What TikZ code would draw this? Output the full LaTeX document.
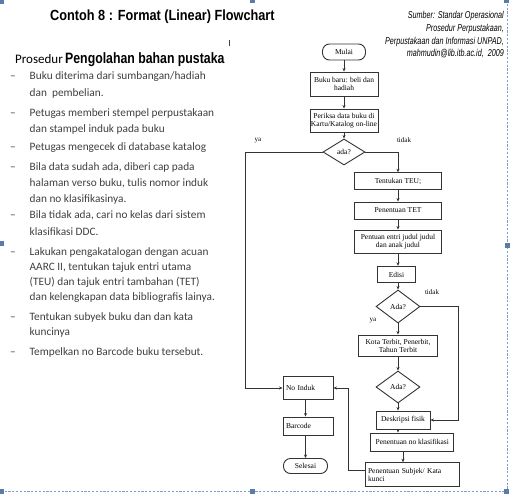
\documentclass[tikz,border=0pt]{standalone}
\usepackage{graphicx}
\usepackage{fontspec}
\setmainfont{Liberation Serif}
\newfontfamily\arialf{Liberation Sans}
\newfontfamily\calf{Carlito}
\usetikzlibrary{arrows.meta,shapes.geometric}
\definecolor{handle}{HTML}{5B7BAA}
\definecolor{selline}{HTML}{7F9CC8}
\definecolor{bodytext}{HTML}{404040}
\tikzset{
  fbox/.style={draw=black!80, line width=0.9pt, fill=white, inner sep=1pt, align=center,
    font=\fontsize{7.5}{8}\selectfont},
  lbox/.style={fbox, align=left, text width=#1},
  term/.style={fbox, rounded corners=7pt},
  dec/.style={draw=black!80, line width=0.9pt, fill=white, diamond, inner sep=0pt,
    font=\fontsize{7.5}{8}\selectfont},
  arr/.style={draw=black!80, line width=0.8pt, -{Stealth[length=3.5pt,width=3pt]}},
  lab/.style={inner sep=0pt, font=\fontsize{7}{7.5}\selectfont},
  bl/.style={anchor=base west, inner sep=0pt, text=bodytext, font=\calf\fontsize{11.3}{13}\selectfont},
  src/.style={anchor=base east, inner sep=0pt},
  hnd/.style={fill=handle, draw=none}
}
\begin{document}
\begin{tikzpicture}[x=1pt,y=-1pt]
\useasboundingbox (0,0) rectangle (513,494);
\fill[white] (0,0) rectangle (513,494);

% selection frame
\draw[selline, line width=0.8pt, dash pattern=on 2.2pt off 1.6pt] (507,0) -- (507,491.5) -- (0,491.5);
\fill[hnd] (0,0) rectangle (4,4);
\fill[hnd] (250,0) rectangle (255,3.5);
\fill[hnd] (504,0) rectangle (509,3.5);
\fill[hnd] (0,240.5) rectangle (3.5,245.5);
\fill[hnd] (504.5,243) rectangle (509.5,248);
\fill[hnd] (0,489) rectangle (3.5,494);
\fill[hnd] (250,488.5) rectangle (255,494);
\fill[hnd] (503.5,488.5) rectangle (508.5,494);

% title
\node[anchor=base west, inner sep=0pt] (title) at (50,20.7)
  {\scalebox{0.865}[1]{\arialf\bfseries\fontsize{14.7}{16}\selectfont Contoh 8 : Format (Linear) Flowchart}};
\fill[black!75] (228.8,40) rectangle (230.2,46.5);

% source
\node[src] (s1) at (504,18.5) {\scalebox{0.72}[1]{\arialf\itshape\fontsize{10}{11}\selectfont Sumber: Standar Operasional}};
\node[src] (s2) at (504,31.5) {\scalebox{0.72}[1]{\arialf\itshape\fontsize{10}{11}\selectfont Prosedur Perpustakaan,}};
\node[src] (s3) at (504,44.5) {\scalebox{0.72}[1]{\arialf\itshape\fontsize{10}{11}\selectfont Perpustakaan dan Informasi UNPAD,}};
\node[src] (s4) at (504,57) {\scalebox{0.72}[1]{\arialf\itshape\fontsize{10}{11}\selectfont mahmudin@lib.itb.ac.id,\ \ 2009}};

% heading
\node[anchor=base west, inner sep=0pt] (h1) at (15,63.3) {\calf\fontsize{13}{14}\selectfont Prosedur};
\node[anchor=base west, inner sep=0pt] (h2) at (65,63.3)
  {\scalebox{0.82}[1]{\arialf\bfseries\fontsize{15}{16}\selectfont Pengolahan bahan pustaka}};

% bullets: dashes
\node[bl, anchor=base west] (d1m) at (10,80) {–};
\node[bl, anchor=base west] (d2m) at (10,116.5) {–};
\node[bl, anchor=base west] (d3m) at (10,150.5) {–};
\node[bl, anchor=base west] (d4m) at (10,170.5) {–};
\node[bl, anchor=base west] (d5m) at (10,218.5) {–};
\node[bl, anchor=base west] (d6m) at (10,255) {–};
\node[bl, anchor=base west] (d7m) at (10,320) {–};
\node[bl, anchor=base west] (d8m) at (10,355) {–};
% bullets: lines
\node[bl] (l1) at (29.5,80) {Buku diterima dari sumbangan/hadiah};
\node[bl] (l2) at (29.5,96.5) {dan\ \ pembelian.};
\node[bl] (l3) at (29.5,116.5) {Petugas memberi stempel perpustakaan};
\node[bl] (l4) at (29.5,133) {dan stampel induk pada buku};
\node[bl] (l5) at (29.5,150.5) {Petugas mengecek di database katalog};
\node[bl] (l6) at (29.5,170.5) {Bila data sudah ada, diberi cap pada};
\node[bl] (l7) at (29.5,186.5) {halaman verso buku, tulis nomor induk};
\node[bl] (l8) at (29.5,202) {dan no klasifikasinya.};
\node[bl] (l9) at (29.5,218.5) {Bila tidak ada, cari no kelas dari sistem};
\node[bl] (l10) at (29.5,235) {klasifikasi DDC.};
\node[bl] (l11) at (29.5,255) {Lakukan pengakatalogan dengan acuan};
\node[bl] (l12) at (29.5,270) {AARC II, tentukan tajuk entri utama};
\node[bl] (l13) at (29.5,285) {(TEU) dan tajuk entri tambahan (TET)};
\node[bl] (l14) at (29.5,300) {dan kelengkapan data bibliografis lainya.};
\node[bl] (l15) at (29.5,320) {Tentukan subyek buku dan dan kata};
\node[bl] (l16) at (29.5,335) {kuncinya};
\node[bl] (l17) at (29.5,355) {Tempelkan no Barcode buku tersebut.};

% flowchart nodes
\node[term, minimum width=43pt, minimum height=16pt] (mulai) at (344,52) {Mulai};
\node[fbox, minimum width=68pt, minimum height=24pt] (buku) at (344,84) {Buku baru: beli dan\\hadiah};
\node[fbox, minimum width=68pt, minimum height=23pt] (periksa) at (344,120.5) {Periksa data buku di\\Kartu/Katalog on-line};
\node[dec, minimum width=42pt, minimum height=26pt] (da) at (344,152) {ada?};
\node[fbox, minimum width=87pt, minimum height=16.5pt] (teu) at (398,181) {Tentukan TEU;};
\node[fbox, minimum width=87pt, minimum height=17pt] (tet) at (398,210.5) {Penentuan TET};
\node[fbox, minimum width=87pt, minimum height=23pt] (entri) at (398,241.5) {Pentuan entri judul judul\\dan anak judul};
\node[fbox, minimum width=38pt, minimum height=16.5pt] (edisi) at (396.5,274.5) {Edisi};
\node[dec, minimum width=44pt, minimum height=33pt] (db) at (398,306.5) {Ada?};
\node[fbox, minimum width=79pt, minimum height=21pt] (kota) at (398,345.5) {Kota Terbit, Penerbit,\\Tahun Terbit};
\node[dec, minimum width=44pt, minimum height=32pt] (dc) at (398,387) {Ada?};
\node[fbox, minimum width=54pt, minimum height=18pt] (desk) at (403,420) {Deskripsi fisik};
\node[fbox, minimum width=83pt, minimum height=18pt] (klas) at (412.3,442) {Penentuan no klasifikasi};
\node[lbox=88pt, minimum width=94pt, minimum height=24pt, inner sep=3pt] (subj) at (412,474.7) {Penentuan Subjek/ Kata\\kunci};
\node[lbox=44pt, minimum width=50pt, minimum height=23pt, inner sep=3pt] (induk) at (308,388) {No Induk};
\node[lbox=44pt, minimum width=50pt, minimum height=18pt, inner sep=3pt] (barcode) at (308,426) {Barcode};
\node[term, minimum width=44pt, minimum height=15pt] (selesai) at (305.5,466) {Selesai};

% labels
\node[lab] (ya1) at (258,140.5) {ya};
\node[lab] (td1) at (404,140.5) {tidak};
\node[lab] (td2) at (432,292) {tidak};
\node[lab] (ya2) at (373,321) {ya};

% connectors
\coordinate (cl) at (245,0);
\coordinate (cr) at (458.3,0);
\coordinate (cm) at (348.5,0);
\draw[arr] (mulai) -- (buku);
\draw[arr] (buku) -- (periksa);
\draw[arr] (periksa) -- (da);
\draw[arr] (da.east) -| (teu.north);
\draw[arr] (da.west) -| (cl |- induk.west) -- (induk.west);
\draw[arr] (teu) -- (tet);
\draw[arr] (tet) -- (entri);
\draw[arr] (entri.south) -- (entri.south |- edisi.north);
\draw[arr] (edisi.south -| db.north) -- (db.north);
\draw[arr] (db.south) -- (kota.north);
\draw[arr] (db.east) -| (cr |- desk.east) -- (desk.east);
\draw[arr] (kota.south) -- (dc.north);
\draw[arr] (dc.south) -- (dc.south |- desk.north);
\draw[arr] (dc.south |- desk.south) -- (dc.south |- klas.north);
\draw[arr] (desk.south |- klas.south) -- (desk.south |- subj.north);
\draw[arr] ([yshift=4pt]subj.west) -| (cm |- induk.east) -- (induk.east);
\draw[arr] (induk.south -| selesai.north) -- (barcode.north -| selesai.north);
\draw[arr] (barcode.south -| selesai.north) -- (selesai.north);
\end{tikzpicture}
\end{document}
